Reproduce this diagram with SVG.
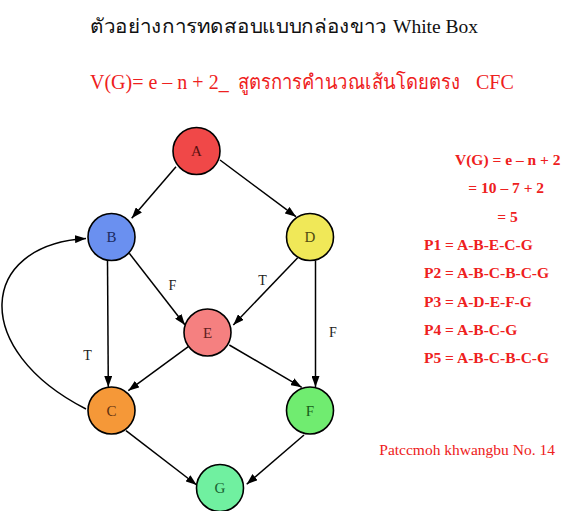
<svg xmlns="http://www.w3.org/2000/svg" width="567" height="511" viewBox="0 0 567 511">
<defs>
<marker id="arr" markerUnits="userSpaceOnUse" markerWidth="11" markerHeight="8" refX="11" refY="4" orient="auto">
<path d="M0,0 L11,4 L0,8 z" fill="#000"/>
</marker>
<style>
.e{stroke:#000;stroke-width:1.5;fill:none;marker-end:url(#arr)}
.n{stroke:#000;stroke-width:1.6}
.lt{font-family:"Liberation Serif","Times New Roman",serif;font-size:15px;text-anchor:middle}
.el{font-family:"Liberation Serif","Times New Roman",serif;font-size:14px;fill:#222;text-anchor:middle}
.r{font-family:"Liberation Serif","Times New Roman",serif;font-size:15.5px;font-weight:bold;fill:#ee2020}
.t{font-family:"Liberation Serif","Noto Sans","DejaVu Sans",serif}
</style>
</defs>
<rect width="567" height="511" fill="#fff"/>
<g id="title">
<text class="t" x="90" y="33" font-size="19.5" fill="#111" textLength="297" lengthAdjust="spacingAndGlyphs">ตัวอย่างการทดสอบแบบกล่องขาว</text>
<text class="t" x="393" y="33" font-size="19.5" fill="#111">White Box</text>
</g>
<g id="formula-title">
<text class="t" x="90" y="89" font-size="20" fill="#ee2020">V(G)= e – n + 2_</text>
<text class="t" x="238" y="89" font-size="20" fill="#ee2020" textLength="222" lengthAdjust="spacingAndGlyphs">สูตรการคำนวณเส้นโดยตรง</text>
<text class="t" x="476" y="89" font-size="20" fill="#ee2020">CFC</text>
</g>
<g id="connectors">
<line class="e" x1="176" y1="166.7" x2="131.7" y2="218.3"/>
<line class="e" x1="220" y1="160" x2="296" y2="216.7"/>
<line class="e" x1="107.5" y1="260.5" x2="108.3" y2="387"/>
<line class="e" x1="129.3" y1="253.3" x2="185" y2="325"/>
<line class="e" x1="297.7" y1="257.7" x2="233.3" y2="325"/>
<line class="e" x1="315.5" y1="260.5" x2="315.5" y2="387"/>
<line class="e" x1="188.3" y1="346.7" x2="128.3" y2="390.7"/>
<line class="e" x1="229.3" y1="345" x2="301.7" y2="387.3"/>
<line class="e" x1="126" y1="430.7" x2="196.7" y2="485"/>
<line class="e" x1="304" y1="435" x2="246.7" y2="484.3"/>
<path class="e" d="M86,409 C-30,350 -22,245 86,238.5"/>
<text class="el" x="172.5" y="290">F</text>
<text class="el" x="262.5" y="285">T</text>
<text class="el" x="333" y="337">F</text>
<text class="el" x="87.5" y="360">T</text>
</g>
<g id="node-A"><circle class="n" cx="196.5" cy="151" r="23.5" fill="#f04848"/><text class="lt" x="196.5" y="156" fill="#5a1010">A</text></g>
<g id="node-B"><circle class="n" cx="111.5" cy="237" r="23.5" fill="#6a90f0"/><text class="lt" x="111.5" y="242" fill="#1a2a60">B</text></g>
<g id="node-D"><circle class="n" cx="310" cy="237" r="23.5" fill="#f0e858"/><text class="lt" x="310" y="242" fill="#504a10">D</text></g>
<g id="node-E"><circle class="n" cx="207.5" cy="332.5" r="23.5" fill="#f58080"/><text class="lt" x="207.5" y="337.5" fill="#602020">E</text></g>
<g id="node-C"><circle class="n" cx="111.5" cy="410.5" r="23.5" fill="#f59838"/><text class="lt" x="111.5" y="415.5" fill="#603010">C</text></g>
<g id="node-F"><circle class="n" cx="310" cy="410.5" r="23.5" fill="#70ec70"/><text class="lt" x="310" y="415.5" fill="#186018">F</text></g>
<g id="node-G"><circle class="n" cx="220" cy="488" r="23.5" fill="#70f0a0"/><text class="lt" x="220" y="493" fill="#186030">G</text></g>
<g id="calc">
<text class="r" x="455" y="165">V(G) = e – n + 2</text>
<text class="r" x="468.3" y="193.3">= 10 – 7 + 2</text>
<text class="r" x="497.3" y="221.7">= 5</text>
<text class="r" x="424" y="250">P1 = A-B-E-C-G</text>
<text class="r" x="424" y="278.3">P2 = A-B-C-B-C-G</text>
<text class="r" x="424" y="306.7">P3 = A-D-E-F-G</text>
<text class="r" x="424" y="335">P4 = A-B-C-G</text>
<text class="r" x="424" y="363.3">P5 = A-B-C-B-C-G</text>
</g>
<text class="t" x="379.3" y="455" font-size="15.5" fill="#ee2020">Patccmoh khwangbu No. 14</text>
</svg>
